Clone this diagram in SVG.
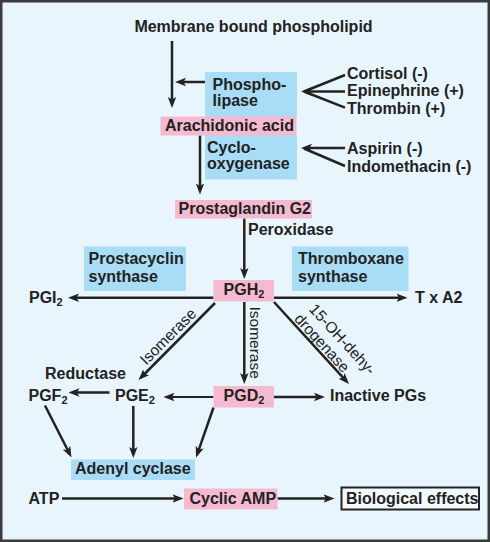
<svg xmlns="http://www.w3.org/2000/svg" width="490" height="542" viewBox="0 0 490 542">
<defs>
<marker id="ah" markerUnits="userSpaceOnUse" markerWidth="11" markerHeight="10" viewBox="0 0 11 10" refX="6" refY="5" orient="auto">
<path d="M0,0.8 L11,5 L0,9.2 L2.5,5 Z" fill="#222"/>
</marker>
<style>
.t{font-family:"Liberation Sans",Arial,sans-serif;font-weight:bold;font-size:16px;fill:#222}
.r{font-family:"Liberation Sans",Arial,sans-serif;font-weight:normal;font-size:15.5px;fill:#222}
.sub{font-size:11px}
.blue{fill:#a9dcf5}
.pink{fill:#f5bad0}
.c line{stroke:#222;stroke-width:2.5;fill:none}
.c .a{marker-end:url(#ah)}
</style>
</defs>
<rect x="1.25" y="1.25" width="487.5" height="539.5" fill="#e9f5fc" stroke="#3a3a3a" stroke-width="2.5"/>

<g class="c" id="connectors">
<line class="a" x1="172" y1="41" x2="172" y2="103"/>
<line class="a" x1="205" y1="82" x2="180" y2="82"/>
<line class="a" x1="345" y1="91.5" x2="306" y2="91.5"/>
<line x1="345" y1="75" x2="304" y2="91.5"/>
<line x1="345" y1="107.7" x2="304" y2="91.5"/>
<line class="a" x1="345" y1="148" x2="306" y2="148"/>
<line x1="345" y1="166" x2="304" y2="148.5"/>
<line class="a" x1="200" y1="135.5" x2="200" y2="189.5"/>
<line class="a" x1="244.3" y1="218.5" x2="244.3" y2="274"/>
<line class="a" x1="213.5" y1="297.7" x2="73" y2="297.7"/>
<line class="a" x1="274" y1="297.7" x2="402.5" y2="297.7"/>
<line class="a" x1="215" y1="303" x2="142" y2="376.5"/>
<line class="a" x1="244.3" y1="302" x2="244.3" y2="379"/>
<line class="a" x1="274" y1="302" x2="345.6" y2="380.3"/>
<line class="a" x1="109.5" y1="392.5" x2="73.5" y2="392.5"/>
<line class="a" x1="213.5" y1="397" x2="168.5" y2="397" style="stroke-width:2"/>
<line class="a" x1="274" y1="397" x2="320" y2="397"/>
<line class="a" x1="45" y1="405.5" x2="69.2" y2="453"/>
<line class="a" x1="133.3" y1="406" x2="133.3" y2="453"/>
<line class="a" x1="213.5" y1="407.5" x2="197.7" y2="452.8"/>
<line class="a" x1="62" y1="498.5" x2="178.5" y2="498.5"/>
<line class="a" x1="277.5" y1="498.5" x2="329.5" y2="498.5"/>
</g>

<g id="membrane"><text class="t" x="253.5" y="32" text-anchor="middle">Membrane bound phospholipid</text></g>

<g id="phospholipase">
<rect class="blue" x="205" y="72" width="92" height="45"/>
<text class="t" x="212.5" y="89.5">Phospho-</text>
<text class="t" x="212.5" y="106">lipase</text>
</g>

<g id="cyclooxygenase">
<rect class="blue" x="205" y="135" width="92" height="44.5"/>
<text class="t" x="207" y="152.5">Cyclo-</text>
<text class="t" x="207" y="169">oxygenase</text>
</g>

<g id="arachidonic">
<rect class="pink" x="160.5" y="116.5" width="136" height="19"/>
<text class="t" x="165" y="131">Arachidonic acid</text>
</g>

<g id="cortisol"><text class="t" x="347" y="78.5">Cortisol (-)</text></g>
<g id="epinephrine"><text class="t" x="347" y="96">Epinephrine (+)</text></g>
<g id="thrombin"><text class="t" x="347" y="114">Thrombin (+)</text></g>
<g id="aspirin"><text class="t" x="347" y="154">Aspirin (-)</text></g>
<g id="indomethacin"><text class="t" x="347" y="171.5">Indomethacin (-)</text></g>

<g id="pgg2">
<rect class="pink" x="175" y="200" width="137" height="18.5"/>
<text class="t" x="178.5" y="213.5">Prostaglandin G2</text>
</g>
<g id="peroxidase"><text class="t" x="248" y="235">Peroxidase</text></g>

<g id="prostacyclin-synthase">
<rect class="blue" x="84" y="246.5" width="102" height="44.5"/>
<text class="t" x="88.5" y="264">Prostacyclin</text>
<text class="t" x="88.5" y="281.5">synthase</text>
</g>
<g id="thromboxane-synthase">
<rect class="blue" x="292" y="246.5" width="116.5" height="44.5"/>
<text class="t" x="298" y="264">Thromboxane</text>
<text class="t" x="298" y="281.5">synthase</text>
</g>

<g id="pgh2">
<rect class="pink" x="213.5" y="280" width="60.5" height="21.5"/>
<text class="t" x="244" y="294.5" text-anchor="middle">PGH<tspan class="sub" dy="3">2</tspan></text>
</g>
<g id="pgi2"><text class="t" x="29" y="302.5">PGI<tspan class="sub" dy="3">2</tspan></text></g>
<g id="txa2"><text class="t" x="415" y="302.5">T x A2</text></g>

<g id="isomerase-left"><text class="r" transform="translate(138.3,380) rotate(-45)" x="15.6" y="-4.5">Isomerase</text></g>
<g id="isomerase-center"><text class="r" transform="translate(249.5,306.5) rotate(90)" x="0" y="0">Isomerase</text></g>
<g id="dehydrogenase">
<text class="r" transform="translate(274,302) rotate(47.5)" x="29" y="-20">15-OH-dehy-</text>
<text class="r" transform="translate(274,302) rotate(47.5)" x="26" y="-2.5">drogenase</text>
</g>

<g id="reductase"><text class="t" x="45" y="379">Reductase</text></g>
<g id="pgf2"><text class="t" x="28.5" y="401">PGF<tspan class="sub" dy="3">2</tspan></text></g>
<g id="pge2"><text class="t" x="115" y="401">PGE<tspan class="sub" dy="3">2</tspan></text></g>
<g id="pgd2">
<rect class="pink" x="213.5" y="386" width="60.5" height="21.5"/>
<text class="t" x="244" y="401" text-anchor="middle">PGD<tspan class="sub" dy="3">2</tspan></text>
</g>
<g id="inactive"><text class="t" x="330" y="401">Inactive PGs</text></g>

<g id="adenyl">
<rect class="blue" x="71" y="459.5" width="124" height="20.5"/>
<text class="t" x="75" y="474">Adenyl cyclase</text>
</g>
<g id="atp"><text class="t" x="28.5" y="504">ATP</text></g>
<g id="camp">
<rect class="pink" x="184" y="488.5" width="93.5" height="21"/>
<text class="t" x="189.5" y="504">Cyclic AMP</text>
</g>
<g id="bio">
<rect x="341.5" y="487.5" width="137.5" height="22" fill="#f2f9fd" stroke="#222" stroke-width="2"/>
<text class="t" x="346" y="503.5">Biological effects</text>
</g>
</svg>
